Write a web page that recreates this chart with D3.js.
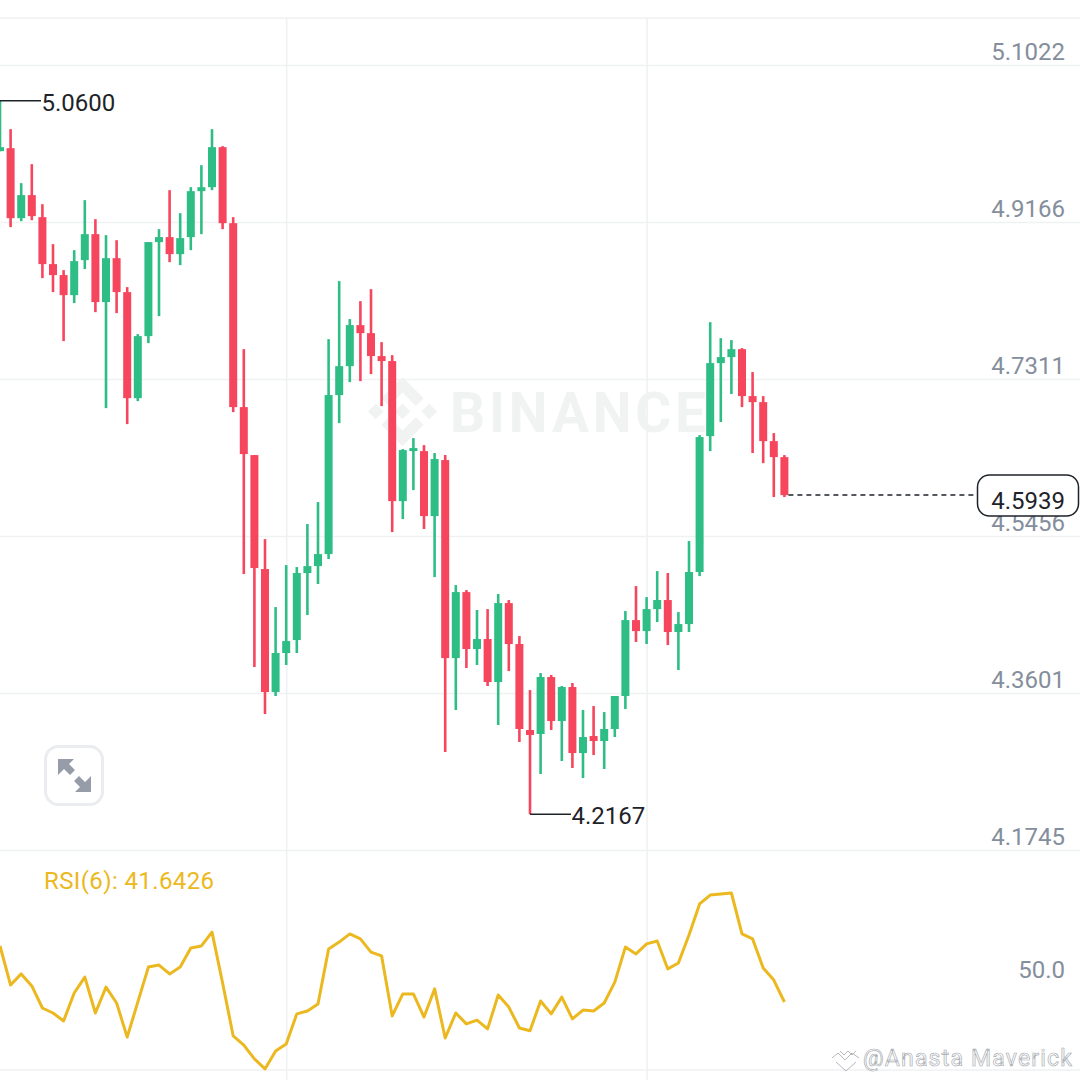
<!DOCTYPE html>
<html>
<head>
<meta charset="utf-8">
<script src="https://cdn.jsdelivr.net/npm/d3@7"></script>
<style>
  html, body { margin: 0; padding: 0; background: #fff; }
  svg { display: block; font-family: Roboto, sans-serif; }
</style>
</head>
<body>
<svg id="chart" width="1080" height="1080"></svg>
<script>
// candles, oldest first
const opens = [5.0004,5.0039,4.9212,4.9484,4.9224,4.8669,4.8539,4.8302,4.8716,4.9023,4.8220,4.8739,4.8338,4.7085,4.7818,4.8929,4.8988,4.8787,4.8988,4.9531,4.9578,5.0051,4.9153,4.6979,4.6412,4.5065,4.3612,4.4073,4.4226,4.5018,4.5100,4.5242,4.7121,4.7463,4.7948,4.7853,4.7582,4.7523,4.5868,4.6459,4.6459,4.5691,4.6353,4.4013,4.4793,4.4120,4.4238,4.3730,4.4663,4.4179,4.3163,4.3116,4.3789,4.3269,4.3671,4.2891,4.3092,4.3033,4.3175,4.3565,4.4462,4.4332,4.4592,4.4699,4.4321,4.4415,4.5030,4.6636,4.7499,4.7570,4.7664,4.7109,4.7038,4.6577,4.6388]
const highs = [5.0600,5.0264,4.9626,4.9850,4.9377,4.8905,4.8598,4.8834,4.9425,4.9200,4.9011,4.8952,4.8397,4.7842,4.8929,4.9082,4.9543,4.9271,4.9578,4.9838,5.0264,5.0063,4.9224,4.7664,4.6412,4.5419,4.4616,4.5112,4.5089,4.5597,4.5857,4.7782,4.8468,4.8019,4.8231,4.8373,4.7747,4.7593,4.6483,4.6613,4.6530,4.6436,4.6412,4.4876,4.4817,4.4581,4.4592,4.4770,4.4699,4.4273,4.3635,4.3836,4.3813,4.3683,4.3718,4.3399,4.3446,4.3375,4.3565,4.4569,4.4864,4.4734,4.5041,4.5018,4.4557,4.5396,4.6648,4.7983,4.7794,4.7771,4.7676,4.7393,4.7109,4.6672,4.6412]
const lows = [5.0004,4.9106,4.9177,4.9188,4.8503,4.8338,4.7759,4.8208,4.8610,4.8101,4.6967,4.8090,4.6778,4.7050,4.7735,4.8054,4.8692,4.8657,4.8834,4.9023,4.9543,4.9082,4.6920,4.5006,4.3907,4.3352,4.3565,4.3931,4.4073,4.4522,4.4888,4.5183,4.6790,4.7274,4.7286,4.7369,4.6991,4.5502,4.5656,4.5998,4.5538,4.4970,4.2903,4.3399,4.3895,4.3931,4.3683,4.3222,4.3860,4.3021,4.2167,4.2643,4.3163,4.2797,4.2714,4.2596,4.2867,4.2702,4.3080,4.3411,4.4203,4.4179,4.4439,4.4167,4.3872,4.4321,4.4982,4.6459,4.6802,4.7133,4.6979,4.6436,4.6317,4.5916,4.5916]
const closes = [5.0051,4.9212,4.9484,4.9236,4.8669,4.8539,4.8302,4.8704,4.9023,4.8220,4.8739,4.8338,4.7085,4.7818,4.8929,4.8988,4.8787,4.8976,4.9531,4.9578,5.0051,4.9153,4.6979,4.6424,4.5077,4.3612,4.4073,4.4214,4.5018,4.5100,4.5242,4.7121,4.7463,4.7948,4.7853,4.7582,4.7523,4.5868,4.6471,4.6495,4.5691,4.6365,4.4013,4.4793,4.4120,4.4238,4.3730,4.4663,4.4179,4.3175,4.3104,4.3789,4.3269,4.3671,4.2891,4.3080,4.3033,4.3175,4.3565,4.4462,4.4332,4.4592,4.4699,4.4321,4.4415,4.5030,4.6625,4.7499,4.7570,4.7664,4.7109,4.7038,4.6577,4.6388,4.5939]
const rsiValues = [66.3,49.1,54.0,48.7,39.0,36.8,33.3,45.6,52.6,36.8,48.2,41.2,26.2,41.6,57.0,57.9,54.0,57.0,65.4,66.3,72.4,50.0,26.7,22.7,16.6,12.2,20.1,23.2,36.4,37.7,40.8,65.0,68.0,71.6,69.4,63.6,61.9,35.5,45.2,45.2,35.0,47.4,25.8,36.8,32.0,33.7,29.8,44.7,39.4,30.2,29.0,42.1,36.4,43.8,34.2,38.1,37.7,41.2,50.4,65.8,62.8,67.2,68.5,56.2,58.8,71.1,84.8,88.7,89.2,89.6,71.6,69.4,56.6,51.3,41.6426]

const priceTicks = [5.1022, 4.9166, 4.7311, 4.5456, 4.3601, 4.1745]
const rsiTicks = [50]
const timeTicks = [27, 61]
const highMark = { index: 0, value: 5.06 }
const lowMark = { index: 50, value: 4.2167 }
const lastPrice = 4.5939

const RED = "#f6465d", GREEN = "#2ebd85", GRID = "#eff1f3", INK = "#1e2329", GREY = "#848e9c", GOLD = "#ecb820"

const svg = d3.select("#chart")
const indexes = d3.range(opens.length)

const x = d3.scaleLinear().domain([0, 74]).range([0, 784.4])
const y = d3.scaleLinear().domain([4.1745, 5.1022]).range([850, 65])
const yRsi = d3.scaleLinear().domain([50, 89.6]).range([983, 893])
const fmt = d3.format(".4f")

// grid frame
svg.selectAll("line.frame").data([18, 1070]).enter().append("line")
    .attr("class", "frame")
    .attr("x1", 0).attr("x2", 1080)
    .attr("y1", d => d).attr("y2", d => d)
    .attr("stroke", GRID).attr("stroke-width", 1.6)

svg.append("g").attr("transform", "translate(0,1080)")
    .call(d3.axisBottom(x).tickValues(timeTicks).tickSize(-1062).tickFormat(""))
    .call(g => g.select(".domain").remove())
    .call(g => g.selectAll("line").attr("stroke", GRID).attr("stroke-width", 1.6))

const priceAxis = svg.append("g").attr("transform", "translate(1080,0)")
    .call(d3.axisLeft(y).tickValues(priceTicks).tickSize(1080).tickPadding(0).tickFormat(fmt))
priceAxis.select(".domain").remove()
priceAxis.selectAll("line").attr("stroke", GRID).attr("stroke-width", 1.6)

// watermark sits under the candles
const logo = svg.append("g").attr("transform", "translate(368,377) scale(0.545)")
logo.append("path")
    .attr("fill", "#f1f2f2")
    .attr("d", "M38.7 53.2l24.6-24.6 24.6 24.6 14.3-14.3L63.3 0 24.4 38.9zM0 63.3l14.3-14.3 14.3 14.3-14.3 14.3zM38.7 73.4l24.6 24.6 24.6-24.6 14.3 14.3-38.9 38.9-38.9-38.9zM98 63.3l14.3-14.3 14.3 14.3-14.3 14.3zM77.8 63.3L63.3 48.8 52.6 59.5l-1.2 1.2-2.5 2.5 14.4 14.4 14.5-14.5z")
svg.append("text")
    .attr("x", 450).attr("y", 432)
    .attr("textLength", 256)
    .attr("font-size", 55).attr("font-weight", 700)
    .attr("fill", "#f1f2f2")
    .text("BINANCE")

// candles
const colorOf = i => closes[i] >= opens[i] ? GREEN : RED
svg.selectAll("line.wick").data(indexes).enter().append("line")
    .attr("class", "wick")
    .attr("x1", i => x(i)).attr("x2", i => x(i))
    .attr("y1", i => y(highs[i])).attr("y2", i => y(lows[i]))
    .attr("stroke", colorOf).attr("stroke-width", 2.6)
svg.selectAll("rect.body").data(indexes).enter().append("rect")
    .attr("class", "body")
    .attr("x", i => x(i) - 4).attr("width", 8)
    .attr("y", i => y(Math.max(opens[i], closes[i])))
    .attr("height", i => Math.max(1, Math.abs(y(opens[i]) - y(closes[i]))))
    .attr("fill", colorOf)

// price labels, lifted above their gridlines
priceAxis.selectAll("text")
    .attr("x", -15).attr("y", -14).attr("dy", "0.36em")
    .attr("font-family", "Roboto, sans-serif").attr("font-size", 24)
    .attr("fill", GREY).attr("text-anchor", "end")

// high and low callouts
;[highMark, lowMark].forEach(m => {
   svg.append("line")
      .attr("x1", x(m.index)).attr("x2", x(m.index) + 41)
      .attr("y1", y(m.value)).attr("y2", y(m.value))
      .attr("stroke", INK).attr("stroke-width", 1.5)
   svg.append("text")
      .attr("x", x(m.index) + 41.5).attr("y", y(m.value) + 1.5).attr("dy", "0.36em")
      .attr("font-size", 24).attr("fill", INK)
      .text(fmt(m.value))
})

// last price
svg.append("line")
    .attr("x1", x(74) + 4).attr("x2", 978)
    .attr("y1", y(lastPrice)).attr("y2", y(lastPrice))
    .attr("stroke", INK).attr("stroke-width", 1.5).attr("stroke-dasharray", "5 4")
svg.append("rect")
    .attr("x", 977.5).attr("y", 475).attr("width", 101).attr("height", 41).attr("rx", 12)
    .attr("fill", "#fff").attr("stroke", INK).attr("stroke-width", 1.5)
svg.append("text")
    .attr("x", 1065).attr("y", 500).attr("dy", "0.36em")
    .attr("text-anchor", "end").attr("font-size", 24).attr("fill", INK)
    .text(fmt(lastPrice))

// expand button
svg.append("rect")
    .attr("x", 45.5).attr("y", 746.5).attr("width", 57).attr("height", 58).attr("rx", 13)
    .attr("fill", "#fff").attr("stroke", "#eaecef").attr("stroke-width", 3)
svg.append("path")
    .attr("fill", "#969da8")
    .attr("d", "M58 759H74L69 764L75 770L70 775L64 769L58 775ZM91 792H75L80 787L74 781L79 776L85 782L91 776Z")

// rsi pane
const rsiLine = d3.line().x((d, i) => x(i)).y(d => yRsi(d))
svg.append("path")
    .datum(rsiValues)
    .attr("d", rsiLine)
    .attr("fill", "none").attr("stroke", GOLD).attr("stroke-width", 3)
    .attr("stroke-linejoin", "round")

svg.append("g").attr("transform", "translate(1080,0)")
    .call(d3.axisLeft(yRsi).tickValues(rsiTicks).tickSize(0).tickFormat(d3.format(".1f")))
    .call(g => g.select(".domain").remove())
    .call(g => g.selectAll("text")
        .attr("x", -15).attr("y", -14).attr("dy", "0.36em")
        .attr("font-family", "Roboto, sans-serif").attr("font-size", 24)
        .attr("fill", GREY).attr("text-anchor", "end"))

svg.append("text")
    .attr("x", 44).attr("y", 880).attr("dy", "0.36em")
    .attr("textLength", 170)
    .attr("font-size", 24).attr("fill", GOLD)
    .text("RSI(6): " + fmt(rsiValues[rsiValues.length - 1]))

// author stamp
const stamp = svg.append("g").attr("fill", "none").attr("stroke", "#b4b8bd").attr("stroke-width", 1)
stamp.append("path").attr("d", "M840 1051l4 4 4-4 4 4 4-4M832 1058l6-5 7 7 7-7 7 5M836 1062l10 9 10-9")
svg.append("text")
    .attr("x", 863).attr("y", 1066)
    .attr("textLength", 209)
    .attr("font-size", 23)
    .attr("fill", "#fff").attr("stroke", "#a9adb2").attr("stroke-width", 0.7)
    .text("@Anasta Maverick")
</script>
</body>
</html>
